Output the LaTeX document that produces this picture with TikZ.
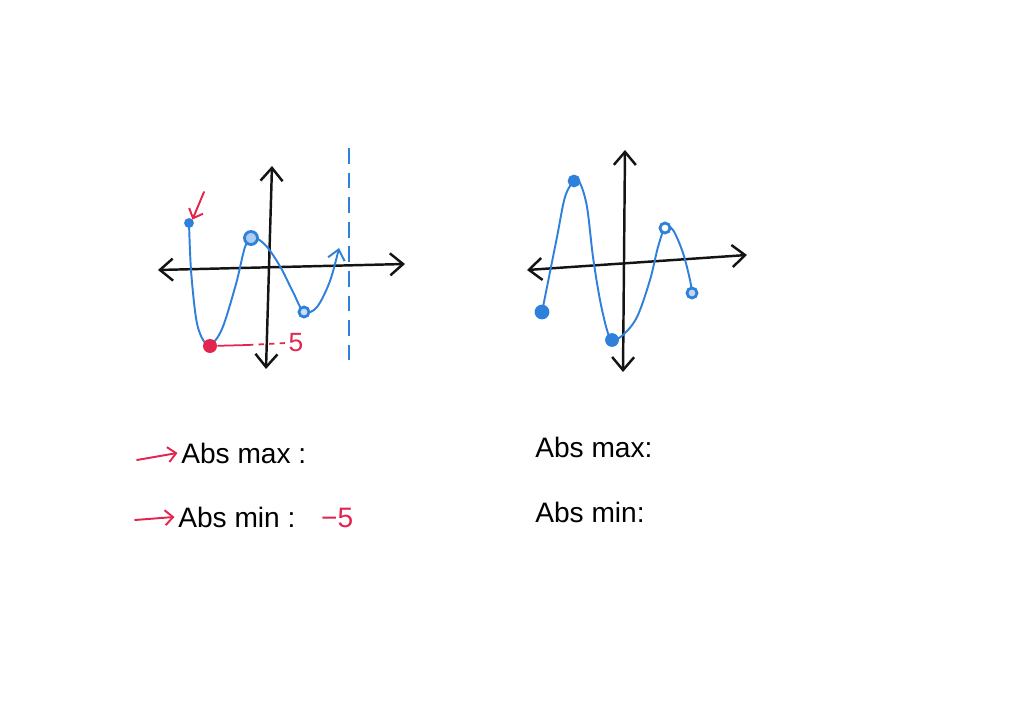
\documentclass[tikz,border=0pt]{standalone}
\usepackage{fontspec}
\setmainfont{Liberation Sans}
\usetikzlibrary{arrows.meta,positioning,calc}
\definecolor{pen}{HTML}{141414}
\definecolor{curve}{HTML}{2F80DA}
\definecolor{redpen}{HTML}{E1254E}
\tikzset{axis/.style={draw=pen,line width=1.4pt,line cap=round,{Straight Barb[length=2.6mm,width=4.4mm]}-{Straight Barb[length=2.6mm,width=4.4mm]}},
graph/.style={draw=curve,line width=1.1pt,line cap=round},
dot/.style={circle,draw=curve,fill=curve,line width=1pt,inner sep=0pt,minimum size=2mm},
ring/.style={circle,draw=curve,fill=white,line width=1.6pt,inner sep=0pt,minimum size=2mm},
note/.style={draw=redpen,line width=1.1pt,line cap=round,-{Straight Barb[length=1.6mm,width=3mm]}},
answer/.style={font=\fontsize{16}{19}\selectfont,inner sep=0pt,anchor=base west}}

\begin{document}
\begin{tikzpicture}[x=0.02cm,y=-0.02cm]
\useasboundingbox (0,0) rectangle (1024,712);
% left graph
\draw[axis] (158,270) -- (405,264);
\draw[axis] (272,166) -- (266,369);
\draw[draw=curve,line width=1pt,dash pattern=on 9pt off 5pt] (349,148) -- (349,360);
\draw[graph,-{Straight Barb[length=2mm,width=3.4mm]}] plot[smooth,tension=0.55] coordinates {(189,223) (191,270) (196,318) (202,338) (210,345) (222,329) (236,284) (245,247) (252,238) (258,239) (268,248) (281,268) (293,292) (304,312) (317,307) (330,281) (339,248)};
\node[dot,minimum size=1.6mm] (startL) at (189,223) {};
\node[ring,fill=curve!40,minimum size=2.6mm] (peakL) at (251,238) {};
\node[ring,fill=curve!25,minimum size=2mm] (lowL) at (304,312) {};
\node[circle,fill=redpen,inner sep=0pt,minimum size=2.8mm] (minL) at (210,346) {};
\node[text=redpen,font=\fontsize{15}{18}\selectfont,inner sep=1pt] (fiveL) at (296,343) {5};
\draw[draw=redpen,line width=1pt] (minL) -- ++(38,-1) coordinate (dashL);
\draw[draw=redpen,line width=1pt,dashed] (dashL) -- (fiveL.west);
\coordinate (tipL) at (204,192);
\draw[note] (tipL) -- (startL.north east);
% right graph
\draw[axis] (527,270) -- (747,255);
\draw[axis] (625,150) -- (623,372);
\draw[graph] plot[smooth,tension=0.55] coordinates {(542,312) (547,287) (557,237) (565,197) (574,181) (580,183) (587,207) (593,257) (600,300) (607,330) (612,340) (623,335) (637,317) (650,280) (658,247) (665,228) (673,230) (683,253) (690,280) (692,293)};
\node[dot,minimum size=2.6mm] (startR) at (542,312) {};
\node[dot,minimum size=2.2mm] (peakR) at (574,181) {};
\node[dot,minimum size=2.4mm] (minR) at (612,340) {};
\node[ring,minimum size=2mm] (hillR) at (665,228) {};
\node[ring,fill=curve!30,minimum size=2mm] (endR) at (692,293) {};
% answers
\node[answer] (maxL) at (181,463) {Abs max :};
\node[answer] (minLt) at (178,527) {Abs min :};
\node[answer,text=redpen,right=5mm of minLt.base east,anchor=base west] (valL) {−5};
\coordinate (arrA) at (137,460);
\coordinate (arrB) at (135,520);
\draw[note] (arrA) -- ([xshift=-2pt]maxL.west);
\draw[note] (arrB) -- ([xshift=-2pt]minLt.west);
\node[answer] (maxR) at (535,458) {Abs max:};
\node[answer] (minRt) at (535,522) {Abs min:};
\end{tikzpicture}
\end{document}
